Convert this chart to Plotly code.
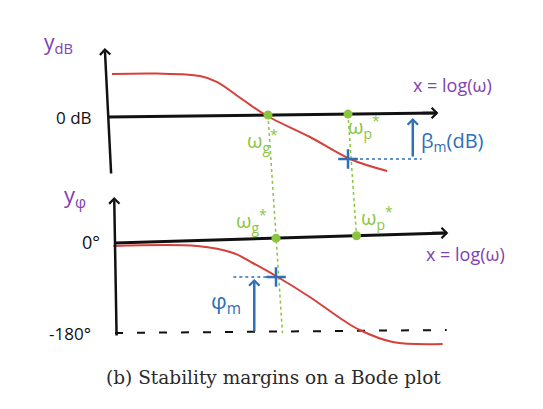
import plotly.graph_objects as go

# hand-sketched Bode plot, x = log(w) in both panels
w_g = 2.0          # gain crossover
w_p = 3.0          # phase crossover

# magnitude curve (dB)
mag_x = [0.05, 0.61, 1.15, 1.36, 1.69, 1.99, 2.525, 3.025, 3.49]
mag_db = [21.5, 21.75, 20.5, 17.6, 8.5, 0.5, -10, -21, -27]

# phase curve (deg)
ph_x = [-0.02, 1.02, 1.47, 1.71, 2.02, 2.42, 2.83, 3.04, 3.45, 4.07]
ph_deg = [-6, -6, -20, -40, -68, -108, -154, -174, -198, -202]

beta_m_db = -21    # magnitude at w_p
phi_at_wg = -68    # phase at w_g

# sketched axes (slightly tilted, as drawn)
dB_axis_x = [0, 4.11]
dB_axis_y = [0, 2]
ph_axis_x = [0, 4.12]
ph_axis_y = [0, 20]
m180_x = [0, 4.12]
m180_y = [-180, -174]

# axis ranges (both panels overlay the whole canvas; page body adds 8px)
X1 = [-100 / 80, 443 / 80]
Y1 = [-150, 54.5]
X2 = [-107 / 80.5, 436 / 80.5]
Y2 = [-348, 470]

RED = "#d6403a"
GREEN = "#8bc53f"
BLUE = "#2e6fb7"
PURPLE = "#8042b2"
BLACK = "#111111"


def remap(v, src, dst):
    return dst[0] + (v - src[0]) * (dst[1] - dst[0]) / (src[1] - src[0])


def on_line(x, xs, ys):
    return ys[0] + (x - xs[0]) * (ys[1] - ys[0]) / (xs[1] - xs[0])


fig = go.Figure()

# axes lines
fig.add_trace(go.Scatter(x=dB_axis_x, y=dB_axis_y, mode="lines",
                         line=dict(color=BLACK, width=3), xaxis="x", yaxis="y"))
fig.add_trace(go.Scatter(x=ph_axis_x, y=ph_axis_y, mode="lines",
                         line=dict(color=BLACK, width=3), xaxis="x2", yaxis="y2"))
fig.add_trace(go.Scatter(x=m180_x, y=m180_y, mode="lines",
                         line=dict(color=BLACK, width=2, dash="8px,14px"),
                         xaxis="x2", yaxis="y2"))

# green dotted connectors between panels
g_top = on_line(w_g, dB_axis_x, dB_axis_y)
p_top = on_line(w_p, dB_axis_x, dB_axis_y)
p_bot = on_line(w_p, ph_axis_x, ph_axis_y)
g_bot = on_line(w_g, ph_axis_x, ph_axis_y)
fig.add_trace(go.Scatter(
    x=[w_g, remap(w_g + 0.08, X2, X1)],
    y=[g_top, remap(-180, Y2, Y1)],
    mode="lines", line=dict(color=GREEN, width=1.5, dash="dot")))
fig.add_trace(go.Scatter(
    x=[w_p, remap(w_p, X2, X1)],
    y=[p_top, remap(p_bot, Y2, Y1)],
    mode="lines", line=dict(color=GREEN, width=1.5, dash="dot")))

# blue dotted margin guides
fig.add_trace(go.Scatter(x=[w_p, 3.92], y=[beta_m_db, beta_m_db], mode="lines",
                         line=dict(color=BLUE, width=1.5, dash="dot")))
fig.add_trace(go.Scatter(x=[1.47, w_g], y=[phi_at_wg, phi_at_wg], mode="lines",
                         line=dict(color=BLUE, width=1.5, dash="dot"),
                         xaxis="x2", yaxis="y2"))

# curves
fig.add_trace(go.Scatter(x=mag_x, y=mag_db, mode="lines", line_shape="spline",
                         line=dict(color=RED, width=2)))
fig.add_trace(go.Scatter(x=ph_x, y=ph_deg, mode="lines", line_shape="spline",
                         line=dict(color=RED, width=2), xaxis="x2", yaxis="y2"))

# crossover dots
fig.add_trace(go.Scatter(x=[w_g, w_p], y=[g_top, p_top], mode="markers",
                         marker=dict(color=GREEN, size=9)))
fig.add_trace(go.Scatter(x=[w_g, w_p], y=[g_bot, p_bot], mode="markers",
                         marker=dict(color=GREEN, size=9), xaxis="x2", yaxis="y2"))

# blue crosses
fig.add_trace(go.Scatter(x=[w_p], y=[beta_m_db], mode="markers",
                         marker=dict(symbol="cross-thin", size=14,
                                     line=dict(color=BLUE, width=2.5))))
fig.add_trace(go.Scatter(x=[w_g], y=[phi_at_wg], mode="markers",
                         marker=dict(symbol="cross-thin", size=14,
                                     line=dict(color=BLUE, width=2.5)),
                         xaxis="x2", yaxis="y2"))


def arrow(x, y, ax, ay, color, xr="x", yr="y", w=2.5):
    fig.add_annotation(x=x, y=y, ax=ax, ay=ay, xref=xr, yref=yr,
                       axref=xr, ayref=yr, text="", showarrow=True,
                       arrowhead=4, arrowsize=0.8, arrowwidth=w,
                       arrowcolor=color)


# axis arrows
arrow(-0.04, 34.5, 0.04, -29, BLACK)
arrow(dB_axis_x[1] + 0.02, dB_axis_y[1], dB_axis_x[1] - 0.2, dB_axis_y[1], BLACK)
arrow(-0.01, 92, 0.02, -188, BLACK, "x2", "y2")
arrow(ph_axis_x[1] + 0.02, ph_axis_y[1], ph_axis_x[1] - 0.2, ph_axis_y[1], BLACK, "x2", "y2")

# margin arrows
arrow(3.81, -0.5, 3.81, beta_m_db + 0.5, BLUE)
arrow(1.73, phi_at_wg - 4, 1.73, -180, BLUE, "x2", "y2")


def label(text, x, y, color, size=17, xr="x", yr="y", font="Open Sans"):
    fig.add_annotation(x=x, y=y, xref=xr, yref=yr, text=text, showarrow=False,
                       font=dict(color=color, size=size, family=font))


label("y<sub>dB</sub>", -0.62, 37, PURPLE, 21)
label("0 dB", -0.43, 0, BLACK, 17)
label("ω<sub>g</sub><sup>*</sup>", 1.93, -12, GREEN, 20)
label("ω<sub>p</sub><sup>*</sup>", 3.2, -5, GREEN, 20)
label("x = log(ω)", 4.3, 16, PURPLE, 18)
label("β<sub>m</sub>(dB)", 4.3, -12, BLUE, 20)

label("y<sub>φ</sub>", -0.5, 94, PURPLE, 22, "x2", "y2")
label("0°", -0.3, 2, BLACK, 18, "x2", "y2")
label("ω<sub>g</sub><sup>*</sup>", 1.7, 44, GREEN, 20, "x2", "y2")
label("ω<sub>p</sub><sup>*</sup>", 3.26, 50, GREEN, 20, "x2", "y2")
label("x = log(ω)", 4.35, -22, PURPLE, 18, "x2", "y2")
label("φ<sub>m</sub>", 1.38, -118, BLUE, 22, "x2", "y2")
label("-180°", -0.56, -180, BLACK, 17, "x2", "y2")

fig.add_annotation(x=265 / 543, y=1 - 369 / 409, xref="paper", yref="paper",
                   xanchor="center", yanchor="middle",
                   text="(b) Stability margins on a Bode plot", showarrow=False,
                   font=dict(family="DejaVu Serif", size=18.5, color="#2a2a2a"))

hidden = dict(visible=False, showgrid=False, zeroline=False, fixedrange=True)
fig.update_layout(
    width=543, height=409,
    margin=dict(l=0, r=0, t=0, b=0),
    paper_bgcolor="white", plot_bgcolor="white",
    showlegend=False,
    xaxis=dict(range=X1, **hidden),
    yaxis=dict(range=Y1, **hidden),
    xaxis2=dict(range=X2, overlaying="x", **hidden),
    yaxis2=dict(range=Y2, overlaying="y", **hidden),
)

fig.write_html("out.html")
